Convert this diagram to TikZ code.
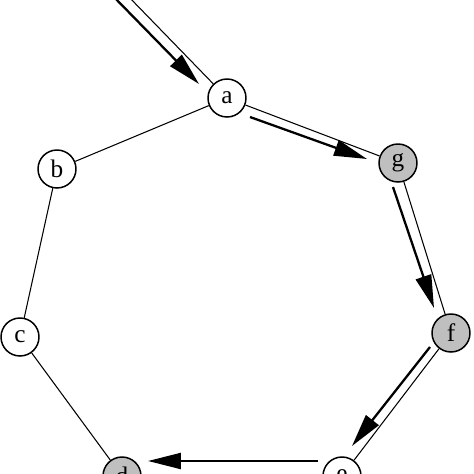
\documentclass[tikz,border=0pt]{standalone}
\usepackage{fontspec}
\setmainfont{Liberation Serif}
\usetikzlibrary{arrows.meta}

\begin{document}
\begin{tikzpicture}[x=0.02cm, y=-0.02cm,
	vert/.style={circle, draw, line width=0.85pt, fill=white, minimum size=0.76cm, inner sep=0pt, font=\Large},
	seen/.style={vert, fill=black!25},
	edge/.style={line width=0.6pt},
	flow/.style={line width=1.3pt, -{Triangle[length=0.66cm, width=0.32cm]}}]
			%%%%% START %%%%%
			\useasboundingbox (0, 0) rectangle (474, 474);
			\clip (0, 0) rectangle (474, 474);
			
			\node[vert] (a) at (227, 98) {a};
			\node[vert] (b) at (57, 169) {b};
			\node[vert] (c) at (20, 337) {c};
			\node[seen] (d) at (122, 476) {d};
			\node[vert] (e) at (342, 476) {e};
			\node[seen] (f) at (451, 333) {f};
			\node[seen] (g) at (398, 163) {g};
			
			\coordinate (in) at (127, -5);
			
			\draw[edge] (in) -- (a);
			\draw[edge] (a) -- (b);
			\draw[edge] (b) -- (c);
			\draw[edge] (c) -- (d);
			\draw[line width=2.3pt, color=black!65] (d) -- (e);
			\draw[edge] (e) -- (f);
			\draw[edge] (f) -- (g);
			\draw[edge] (g) -- (a);
			
			% arrows beside the walk
			\coordinate (s0) at (112, -5);
			\coordinate (t0) at (199, 84);
			\coordinate (s1) at (250, 117);
			\coordinate (t1) at (367, 159);
			\coordinate (s2) at (393, 187);
			\coordinate (t2) at (434, 308);
			\coordinate (s3) at (430, 347);
			\coordinate (t3) at (352, 446);
			\coordinate (s4) at (318, 461);
			\coordinate (t4) at (148, 461);
			
			\draw[flow] (s0) -- (t0);
			\draw[flow] (s1) -- (t1);
			\draw[flow] (s2) -- (t2);
			\draw[flow] (s3) -- (t3);
			\draw[flow] (s4) -- (t4);
			
			%%%%% END %%%%%
\end{tikzpicture}
\end{document}
